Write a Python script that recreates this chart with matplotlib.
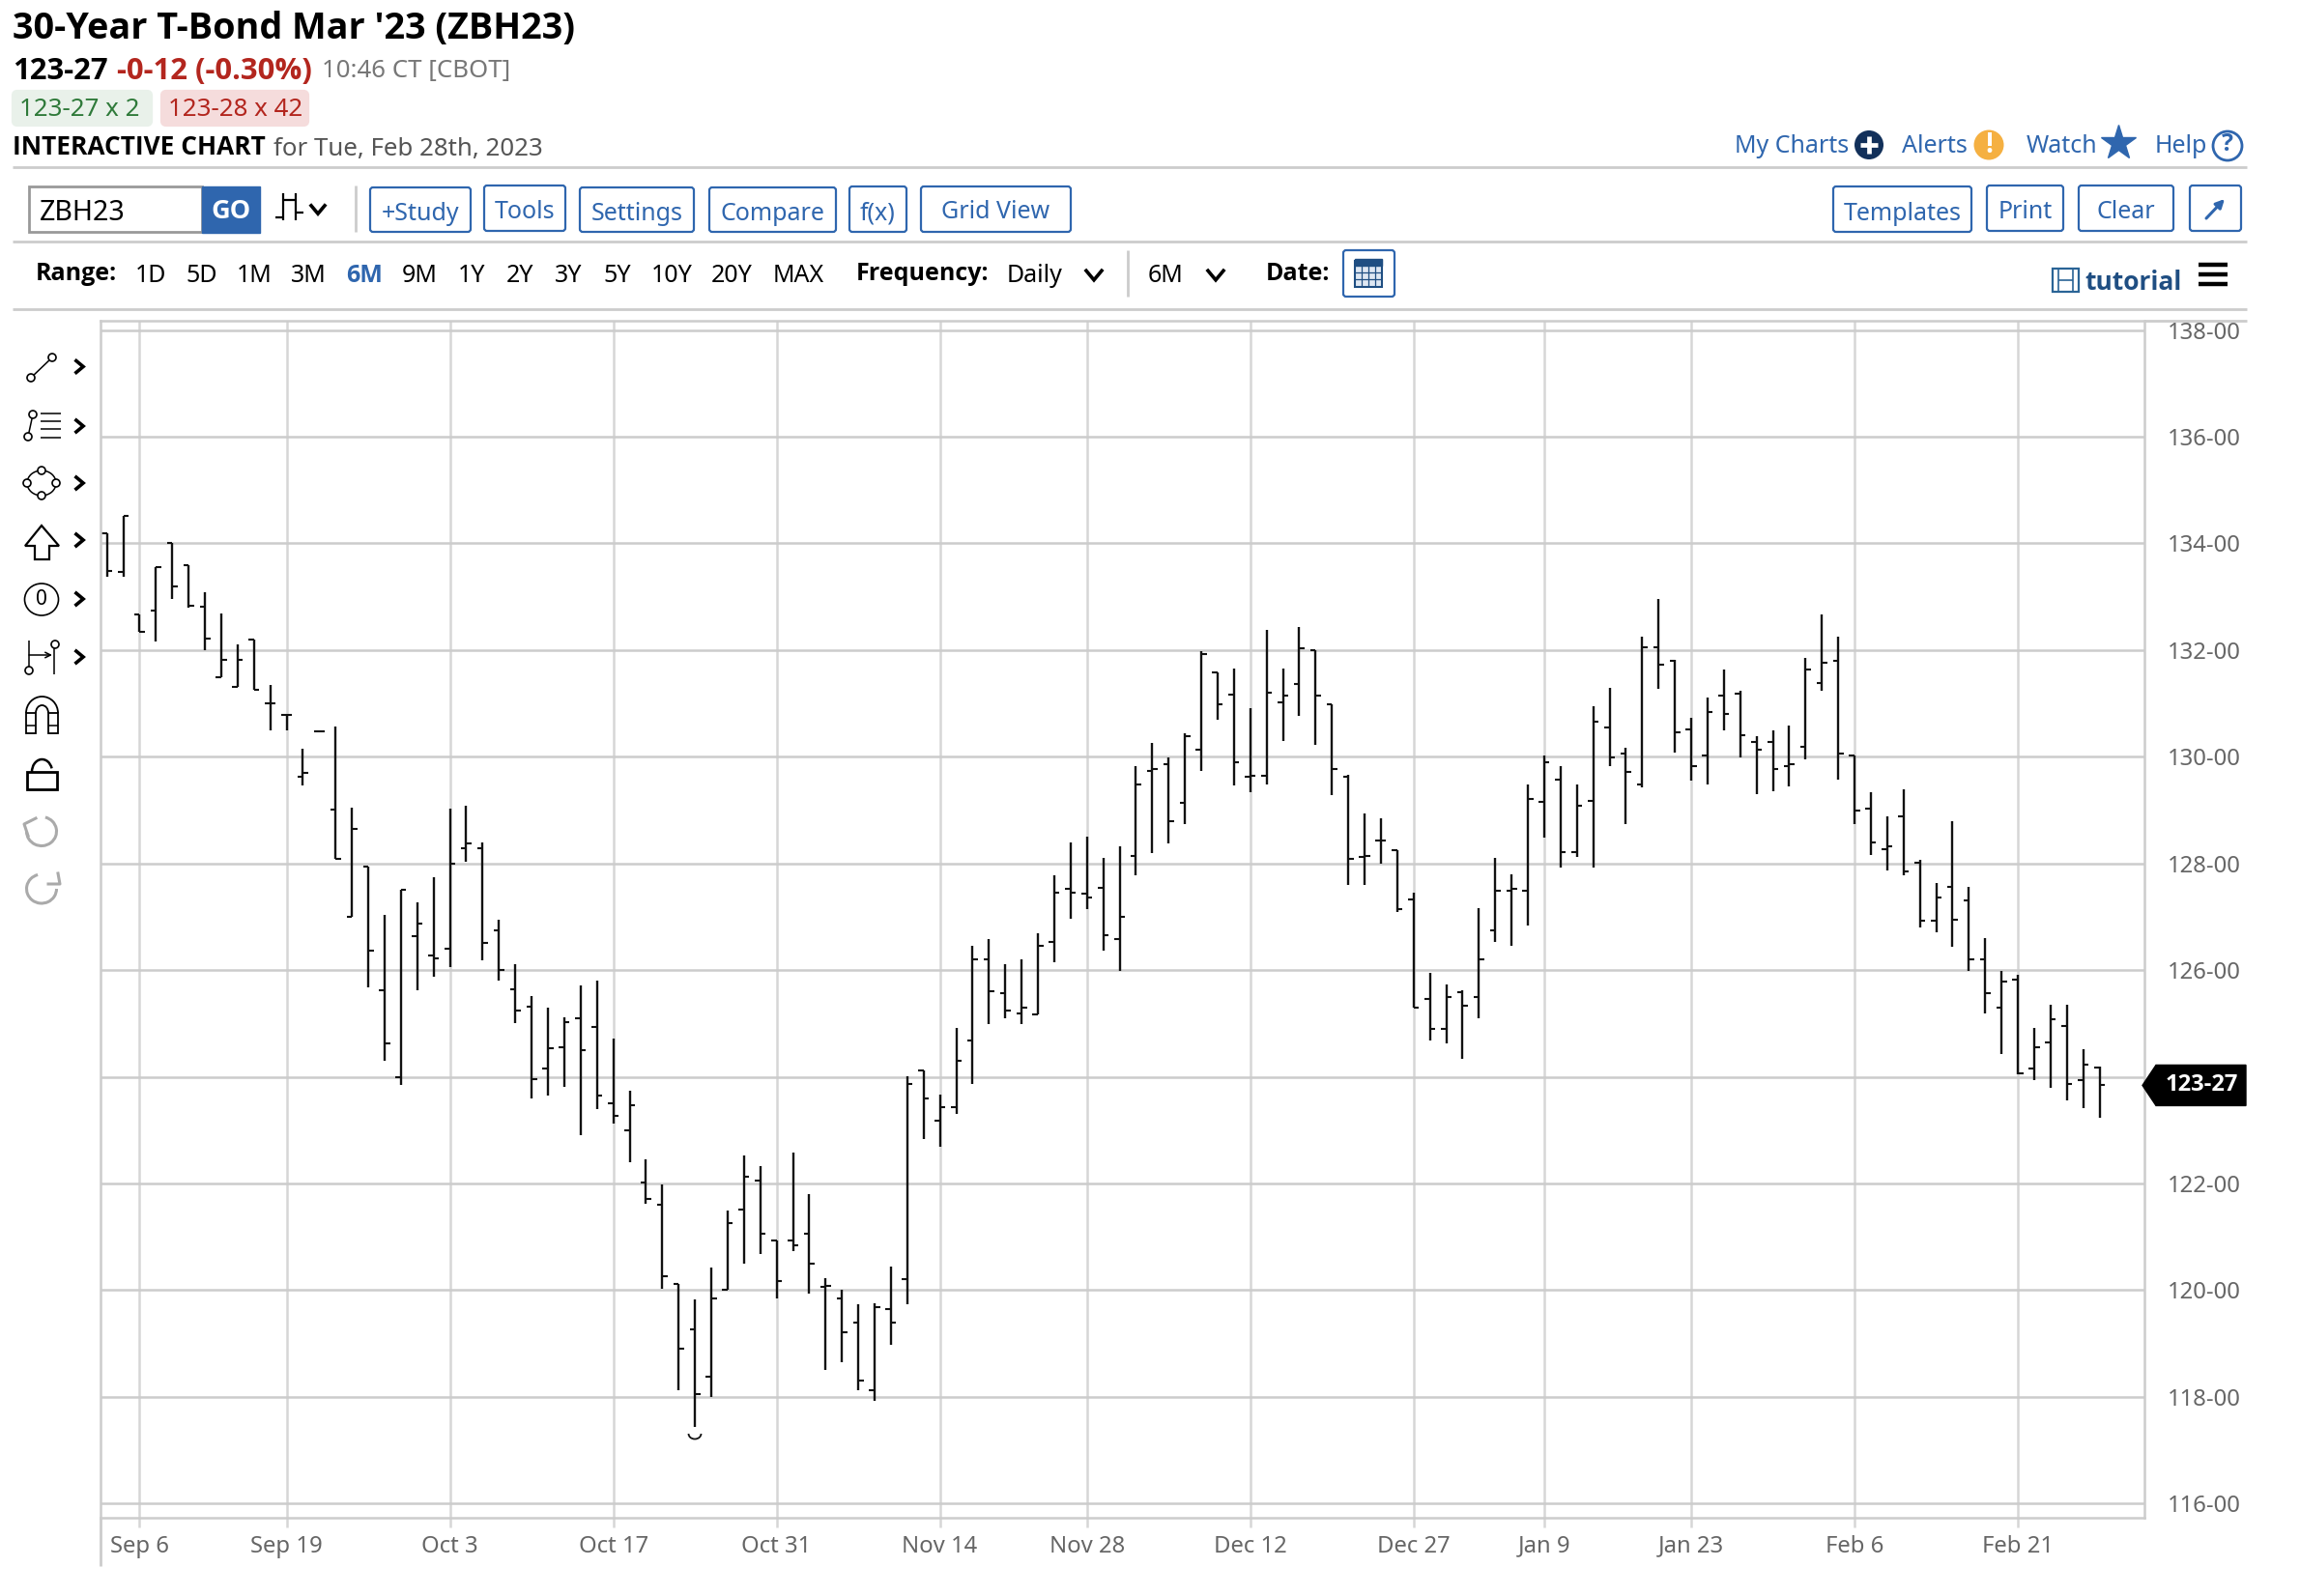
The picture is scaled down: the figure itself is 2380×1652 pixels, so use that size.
import matplotlib
matplotlib.use("Agg")
import matplotlib.pyplot as plt
from matplotlib.patches import FancyBboxPatch, Rectangle, Circle, Ellipse, Polygon, Arc

plt.rcParams['font.family'] = ['Noto Sans', 'DejaVu Sans']

# daily bars, one entry per session from Sep 1 to Feb 28
opens = [134.19, 133.47, 132.66, 132.74, 134.0, 133.6, 132.81, 131.49, 131.31, 132.19,
         131.0, 130.79, 129.63, 130.47, 129.01, 127.0, 127.95, 125.62, 124.0, 126.63,
         126.28, 126.4, 128.28, 128.28, 126.75, 125.65, 125.31, 124.15, 124.55, 125.09,
         124.93, 123.5, 122.99, 122.02, 121.6, 120.12, 119.27, 118.37, 120.01, 121.52,
         122.05, 120.93, 120.93, 121.06, 120.06, 119.84, 119.4, 118.12, 119.65, 120.21,
         124.12, 123.18, 123.43, 124.68, 126.21, 125.56, 125.18, 125.17, 126.52, 127.52,
         127.43, 127.55, 126.59, 128.14, 129.73, 129.86, 129.14, 130.14, 131.58, 131.17,
         129.62, 129.64, 131.02, 131.36, 131.99, 130.99, 129.62, 128.12, 128.43, 128.25,
         127.33, 125.46, 124.9, 125.59, 125.5, 126.74, 127.49, 127.49, 129.15, 129.58,
         128.21, 129.18, 130.55, 130.06, 129.48, 132.05, 131.8, 130.52, 130.02, 131.14,
         131.18, 130.27, 130.27, 129.83, 130.18, 131.39, 131.8, 130.02, 129.02, 128.27,
         128.89, 128.02, 126.93, 127.56, 127.3, 126.21, 125.3, 125.83, 124.15, 124.64,
         124.95, 123.93, 124.18]
highs = [134.19, 134.51, 132.66, 133.56, 134.0, 133.6, 133.08, 132.68, 132.11, 132.19,
         131.34, 130.79, 130.15, 130.47, 130.56, 129.04, 127.95, 127.03, 127.5, 127.27,
         127.75, 129.03, 129.09, 128.4, 126.95, 126.12, 125.51, 125.3, 125.11, 125.71,
         125.8, 124.71, 123.74, 122.45, 121.98, 120.12, 119.83, 120.42, 121.49, 122.52,
         122.33, 120.93, 122.58, 121.8, 120.23, 120.01, 119.73, 119.76, 120.45, 124.01,
         124.12, 123.67, 124.92, 126.46, 126.58, 126.11, 126.2, 126.7, 127.77, 128.39,
         128.51, 128.11, 128.32, 129.82, 130.26, 129.98, 130.44, 131.98, 131.59, 131.66,
         130.92, 132.38, 131.66, 132.44, 132.0, 130.99, 129.66, 128.93, 128.85, 128.25,
         127.45, 125.95, 125.73, 125.63, 127.17, 128.11, 127.8, 129.48, 130.02, 129.82,
         129.48, 130.95, 131.29, 130.17, 132.26, 132.95, 131.81, 130.73, 131.11, 131.64,
         131.23, 130.39, 130.49, 130.58, 131.86, 132.67, 132.26, 130.03, 129.33, 128.89,
         129.39, 128.07, 127.64, 128.79, 127.57, 126.6, 125.98, 125.92, 124.92, 125.35,
         125.35, 124.51, 124.19]
lows = [133.38, 133.38, 132.34, 132.16, 132.95, 132.79, 132.0, 131.49, 131.31, 131.25,
        130.5, 130.5, 129.47, 130.47, 128.08, 127.0, 125.68, 124.31, 123.84, 125.63,
        125.87, 126.06, 128.04, 126.19, 125.81, 125.0, 123.59, 123.65, 123.81, 122.9,
        123.4, 123.12, 122.4, 121.62, 120.02, 118.12, 117.43, 118.0, 120.01, 120.5,
        120.68, 119.84, 120.74, 119.94, 118.5, 118.65, 118.12, 117.93, 118.97, 119.74,
        122.84, 122.69, 123.3, 123.87, 124.99, 125.09, 124.99, 125.17, 126.15, 126.96,
        127.15, 126.37, 125.99, 127.77, 128.2, 128.37, 128.74, 129.74, 130.7, 129.46,
        129.33, 129.49, 130.3, 130.76, 130.23, 129.28, 127.59, 127.59, 127.99, 127.09,
        125.29, 124.68, 124.62, 124.34, 125.09, 126.53, 126.46, 126.84, 128.49, 127.93,
        128.12, 127.93, 129.83, 128.74, 129.43, 131.27, 130.08, 129.55, 129.49, 130.49,
        129.99, 129.3, 129.36, 129.45, 129.96, 131.24, 129.58, 128.74, 128.15, 127.87,
        127.78, 126.8, 126.71, 126.43, 125.99, 125.18, 124.42, 124.04, 123.93, 123.8,
        123.56, 123.42, 123.24]
closes = [133.49, 134.51, 132.34, 133.56, 133.19, 132.84, 132.22, 131.81, 131.81, 131.25,
          131.0, 130.79, 129.69, 130.47, 128.08, 128.64, 126.37, 124.62, 127.5, 126.87,
          126.22, 128.0, 128.38, 126.51, 126.0, 125.24, 123.96, 124.53, 125.02, 124.5,
          123.65, 123.27, 123.46, 121.71, 120.27, 118.9, 118.06, 119.84, 121.25, 122.13,
          121.06, 120.18, 120.84, 120.5, 120.09, 119.21, 118.3, 119.68, 119.4, 123.87,
          123.59, 123.43, 124.31, 126.21, 125.61, 125.24, 125.3, 126.46, 127.46, 127.46,
          127.36, 126.65, 127.0, 129.49, 129.77, 128.79, 130.39, 131.92, 130.99, 129.89,
          129.64, 131.2, 131.14, 132.04, 131.14, 129.77, 128.09, 128.14, 128.43, 127.14,
          125.3, 124.9, 125.49, 125.34, 126.21, 127.49, 127.52, 129.21, 129.9, 128.21,
          129.08, 130.65, 129.99, 129.71, 132.05, 131.73, 130.46, 129.83, 130.84, 130.8,
          130.4, 130.14, 129.77, 129.86, 131.64, 131.76, 130.06, 128.99, 128.4, 128.33,
          127.86, 126.93, 127.37, 126.95, 126.21, 125.56, 125.78, 124.07, 124.55, 125.08,
          123.87, 124.22, 123.84]

date_ticks = [2, 11, 21, 31, 41, 51, 60, 70, 80, 88, 97, 107, 117]
date_labels = ['Sep 6', 'Sep 19', 'Oct 3', 'Oct 17', 'Oct 31', 'Nov 14', 'Nov 28',
               'Dec 12', 'Dec 27', 'Jan 9', 'Jan 23', 'Feb 6', 'Feb 21']
price_ticks = [116, 118, 120, 122, 124, 126, 128, 130, 132, 134, 136, 138]
# the 124 label sits under the last price tag
price_labels = ['116-00', '118-00', '120-00', '122-00', '', '126-00',
                '128-00', '130-00', '132-00', '134-00', '136-00', '138-00']
last_label = '123-27'

range_labels = ['1D', '5D', '1M', '3M', '6M', '9M', '1Y', '2Y', '3Y', '5Y', '10Y', '20Y', 'MAX']
range_lefts = [140, 192, 245, 301, 358, 416, 474, 524, 574, 624, 674, 736, 800]

W, H = 2380, 1652
BLUE = '#2f66ae'
GRID = '#cccccc'
BAR = '#111111'

fig = plt.figure(figsize=(W / 100, H / 100), dpi=100, facecolor='white')

# price chart, placed by its pixel box on the page
left, right, top, bottom = 104, 2219, 331.7, 1570.7
ax = fig.add_axes([left / W, 1 - bottom / H, (right - left) / W, (bottom - top) / H])
ax.set_xlim(-0.396, 124.75)
ax.set_ylim(115.74, 138.18)
ax.set_axisbelow(True)
ax.grid(True, axis='y', color=GRID, lw=1.8)
ax.grid(True, axis='x', color='#d6d6d6', lw=1.8)
for s in ax.spines.values():
    s.set_color(GRID)
    s.set_linewidth(1.8)

ax.yaxis.tick_right()
ax.set_yticks(price_ticks, price_labels)
ax.tick_params(axis='y', length=0, pad=17, labelsize=17.2, labelcolor='#666666')
ax.set_xticks(date_ticks, date_labels)
ax.tick_params(axis='x', length=7, width=1.8, color='#d6d6d6', pad=6, labelsize=17.2,
               labelcolor='#666666')

# OHLC bars: open tick to the left, close tick to the right
days = list(range(len(closes)))
ax.vlines(days, lows, highs, color=BAR, lw=1.7)
ax.hlines(opens, [d - 0.33 for d in days], days, color=BAR, lw=1.5)
ax.hlines(closes, days, [d + 0.33 for d in days], color=BAR, lw=1.5)

# page furniture drawn in pixel coordinates
ui = fig.add_axes([0, 0, 1, 1], zorder=5)
ui.set_xlim(0, W)
ui.set_ylim(H, 0)
ui.axis('off')
ui.patch.set_alpha(0)


def txt(x, y, s, size=18, color='black', weight='normal', ha='left'):
    # the Noto Sans on this box has no bold cut, Open Sans Bold is the same design
    family = ['Open Sans', 'DejaVu Sans'] if weight == 'bold' else ['Noto Sans', 'DejaVu Sans']
    ui.text(x, y, s, fontsize=size, color=color, fontweight=weight, ha=ha, va='center', family=family)


def rule(x0, x1, y0, y1, color=GRID, lw=2.0):
    ui.plot([x0, x1], [y0, y1], color=color, lw=lw, solid_capstyle='butt')


def box(x0, x1, y0, y1, face='none', edge=BLUE, lw=1.6, r=3):
    ui.add_patch(FancyBboxPatch((x0 + r, y0 + r), x1 - x0 - 2 * r, y1 - y0 - 2 * r,
                                boxstyle=f'round,pad={r},rounding_size={r}',
                                fc=face, ec=edge, lw=lw))


def button(x0, x1, y0, y1, label, ty):
    box(x0, x1, y0, y1)
    txt((x0 + x1) / 2, ty, label, color=BLUE, ha='center')


def chevron(x, y, down=True, size=6, color='black'):
    if down:
        ui.plot([x - size, x, x + size], [y - size * 0.6, y + size * 0.6, y - size * 0.6],
                color=color, lw=2.6, solid_joinstyle='miter')
    else:
        ui.plot([x - size * 0.6, x + size * 0.6, x - size * 0.6], [y - size, y, y + size],
                color=color, lw=2.6, solid_joinstyle='miter')


def dot(x, y, r=4, color='black', lw=1.2):
    ui.add_patch(Circle((x, y), r, fc='white', ec=color, lw=lw, zorder=4))


# heading block
txt(13, 30, "30-Year T-Bond Mar '23 (ZBH23)", size=27.2, weight='bold')
txt(13, 74, '123-27', size=22.3, weight='bold')
txt(121, 74, '-0-12 (-0.30%)', size=22.3, color='#b3261e', weight='bold')
txt(333, 74, '10:46 CT [CBOT]', size=18.6, color='#777777')
box(13, 157, 94, 130, face='#e9f1ea', edge='#e9f1ea', r=5)
txt(20, 113, '123-27 x 2', size=18.7, color='#2f7a3a')
box(167, 319, 94, 130, face='#f5dcdc', edge='#f5dcdc', r=5)
txt(174, 113, '123-28 x 42', size=18.7, color='#b3261e')
txt(13, 153, 'INTERACTIVE CHART', size=18.9, weight='bold')
txt(283, 154, 'for Tue, Feb 28th, 2023', size=18.6, color='#555555')

# top right links
txt(1795, 152, 'My Charts', size=18, color=BLUE)
ui.add_patch(Circle((1934, 150), 15, fc='#12305a', ec='none'))
rule(1925, 1943, 150, 150, color='white', lw=3.4)
rule(1934, 1934, 141, 159, color='white', lw=3.4)
txt(1968, 152, 'Alerts', size=18, color=BLUE)
ui.add_patch(Circle((2058, 150), 15.5, fc='#f5b041', ec='none'))
txt(2058, 150, '!', size=20, color='white', weight='bold', ha='center')
txt(2097, 152, 'Watch', size=18, color=BLUE)
ui.plot([2192], [148], marker='*', ms=27, color=BLUE, mec=BLUE)
txt(2230, 152, 'Help', size=18, color=BLUE)
ui.add_patch(Circle((2305, 151), 15, fc='white', ec=BLUE, lw=2))
txt(2305, 150, '?', size=18, color=BLUE, weight='bold', ha='center')

# section dividers
for y in (172.7, 250, 320):
    rule(13, 2325, y, y)
rule(2219, 2325, 331.7, 331.7)

# toolbar row
ui.add_patch(Rectangle((30, 193), 179, 47, fc='white', ec='#999999', lw=2))
txt(41, 220, 'ZBH23', size=20.5)
ui.add_patch(Rectangle((209, 193), 60, 48, fc=BLUE, ec=BLUE))
txt(239, 219, 'GO', size=19.5, color='white', weight='bold', ha='center')
rule(293, 293, 200, 228, color='black', lw=1.6)
rule(306, 306, 200, 228, color='black', lw=1.6)
rule(285, 293, 225, 225, color='black', lw=1.6)
rule(293, 300, 207, 207, color='black', lw=1.6)
rule(300, 306, 207, 207, color='black', lw=1.6)
rule(306, 314, 220, 220, color='black', lw=1.6)
chevron(329, 217, size=7)
rule(368, 368, 192, 240)
button(383, 487, 194, 240, '+Study', 221)
button(501, 585, 192, 239, 'Tools', 220)
button(600, 718, 194, 240, 'Settings', 221)
button(734, 865, 194, 240, 'Compare', 221)
button(879, 938, 193, 240, 'f(x)', 221)
button(953, 1108, 193, 240, 'Grid View', 219)
button(1897, 2040, 193, 240, 'Templates', 221)
button(2056, 2135, 192, 239, 'Print', 220)
button(2151, 2249, 192, 239, 'Clear', 220)
box(2266, 2319, 192, 239)
ui.annotate('', xy=(2302, 206), xytext=(2283, 226),
            arrowprops=dict(arrowstyle='-|>', color=BLUE, lw=2.2, mutation_scale=13,
                            shrinkA=0, shrinkB=0))

# range row
txt(37, 283, 'Range:', size=18, weight='bold')
for label, x in zip(range_labels, range_lefts):
    if label == '6M':
        txt(x, 286, label, size=18, color=BLUE, weight='bold')
    else:
        txt(x, 286, label, size=18)
txt(886, 283, 'Frequency:', size=18, weight='bold')
txt(1042, 285, 'Daily', size=18)
chevron(1132, 285, size=8)
rule(1167, 1167, 259, 307)
txt(1188, 285, '6M', size=18)
chevron(1258, 285, size=8)
txt(1310, 283, 'Date:', size=18, weight='bold')
box(1390, 1443, 259, 307)
ui.add_patch(Rectangle((1402, 270), 28, 27, fc='#dfe8f3', ec='#1f4e82', lw=1.5))
ui.add_patch(Rectangle((1402, 268), 28, 7, fc='#1f4e82', ec='#1f4e82'))
for gx in (1409, 1416, 1423):
    rule(gx, gx, 275, 297, color='#1f4e82', lw=0.9)
for gy in (282, 289):
    rule(1402, 1430, gy, gy, color='#1f4e82', lw=0.9)

# tutorial link and menu
ui.add_patch(Rectangle((2124, 278), 27, 24, fc='white', ec='#2a6496', lw=1.6))
rule(2130, 2130, 278, 302, color='#2a6496', lw=1.2)
rule(2145, 2145, 278, 302, color='#2a6496', lw=1.2)
rule(2130, 2145, 290, 290, color='#2a6496', lw=1.2)
txt(2157, 292, 'tutorial', size=19, color='#1f4e82', weight='bold')
for y in (274, 284, 294):
    rule(2275, 2305, y, y, color='black', lw=3.2)

# drawing tools on the left
tool_chevrons = [379.5, 441, 500, 559, 620, 680]
for y in tool_chevrons:
    chevron(82.5, y, down=False, size=6)
rule(32, 54, 391, 370, color='black', lw=1.1)
dot(32, 391)
dot(54, 370)
rule(29, 34, 452, 429, color='black', lw=1.1)
dot(29, 452)
dot(34, 429)
for y in (427.7, 436, 444.3, 452.6):
    rule(42, 63, y, y, color='black', lw=1.1)
ui.add_patch(Ellipse((43, 500), 30, 26, fc='none', ec='black', lw=1.1))
for x, y in ((28, 500), (43, 487), (58, 500), (43, 513)):
    dot(x, y)
ui.add_patch(Polygon([(43, 544), (61, 565), (51, 565), (51, 579), (36, 579), (36, 565), (26, 565)],
                     closed=True, fc='white', ec='black', lw=1.6))
ui.add_patch(Ellipse((43, 620.5), 35, 33, fc='white', ec='black', lw=1.2))
txt(43, 620, '0', size=15, ha='center')
rule(30, 30, 663, 690, color='black', lw=1.1)
rule(56, 56, 670, 698, color='black', lw=1.1)
ui.annotate('', xy=(54, 678), xytext=(30, 678),
            arrowprops=dict(arrowstyle='->', color='black', lw=1.1, shrinkA=0, shrinkB=0))
dot(30, 694)
dot(57, 667)
ui.add_patch(Arc((43.5, 738), 33, 34, theta1=180, theta2=360, ec='black', lw=1.3))
ui.add_patch(Arc((43.5, 738), 13, 16, theta1=180, theta2=360, ec='black', lw=1.3))
for x0, x1 in ((27, 37), (50, 60)):
    ui.add_patch(Rectangle((x0, 738), x1 - x0, 21, fc='none', ec='black', lw=1.3))
    rule(x0, x1, 751, 751, color='black', lw=1.1)
ui.add_patch(Rectangle((28, 799), 31, 18, fc='white', ec='black', lw=2))
ui.add_patch(Arc((43.5, 799), 21, 26, theta1=180, theta2=340, ec='black', lw=1.8))
# undo and redo, greyed out
ui.add_patch(Arc((43, 860.5), 31, 30, theta1=285, theta2=540, ec='#aaaaaa', lw=2.2))
ui.plot([37, 25, 29], [847, 853, 865], color='#aaaaaa', lw=2.2)
ui.add_patch(Arc((43, 920), 31, 30, theta1=0, theta2=255, ec='#aaaaaa', lw=2.2))
ui.plot([50, 62, 60], [915, 915, 904], color='#aaaaaa', lw=2.2)

# axis overhang on the left edge and the low-of-range marker
rule(104, 104, 1570, 1621)
ui.add_patch(Arc((719, 1484), 13, 11, theta1=0, theta2=180, ec=BAR, lw=1.3))

# last price tag
last_y = 1114.6 + (124 - closes[-1]) * 55.2
ui.add_patch(Polygon([(2217, last_y), (2231, last_y - 21), (2324, last_y - 21),
                      (2324, last_y + 21), (2231, last_y + 21)], closed=True, fc='black', ec='black'))
txt(2278, last_y, last_label, size=17, color='white', weight='bold', ha='center')

fig.savefig('out.png', dpi=100)
